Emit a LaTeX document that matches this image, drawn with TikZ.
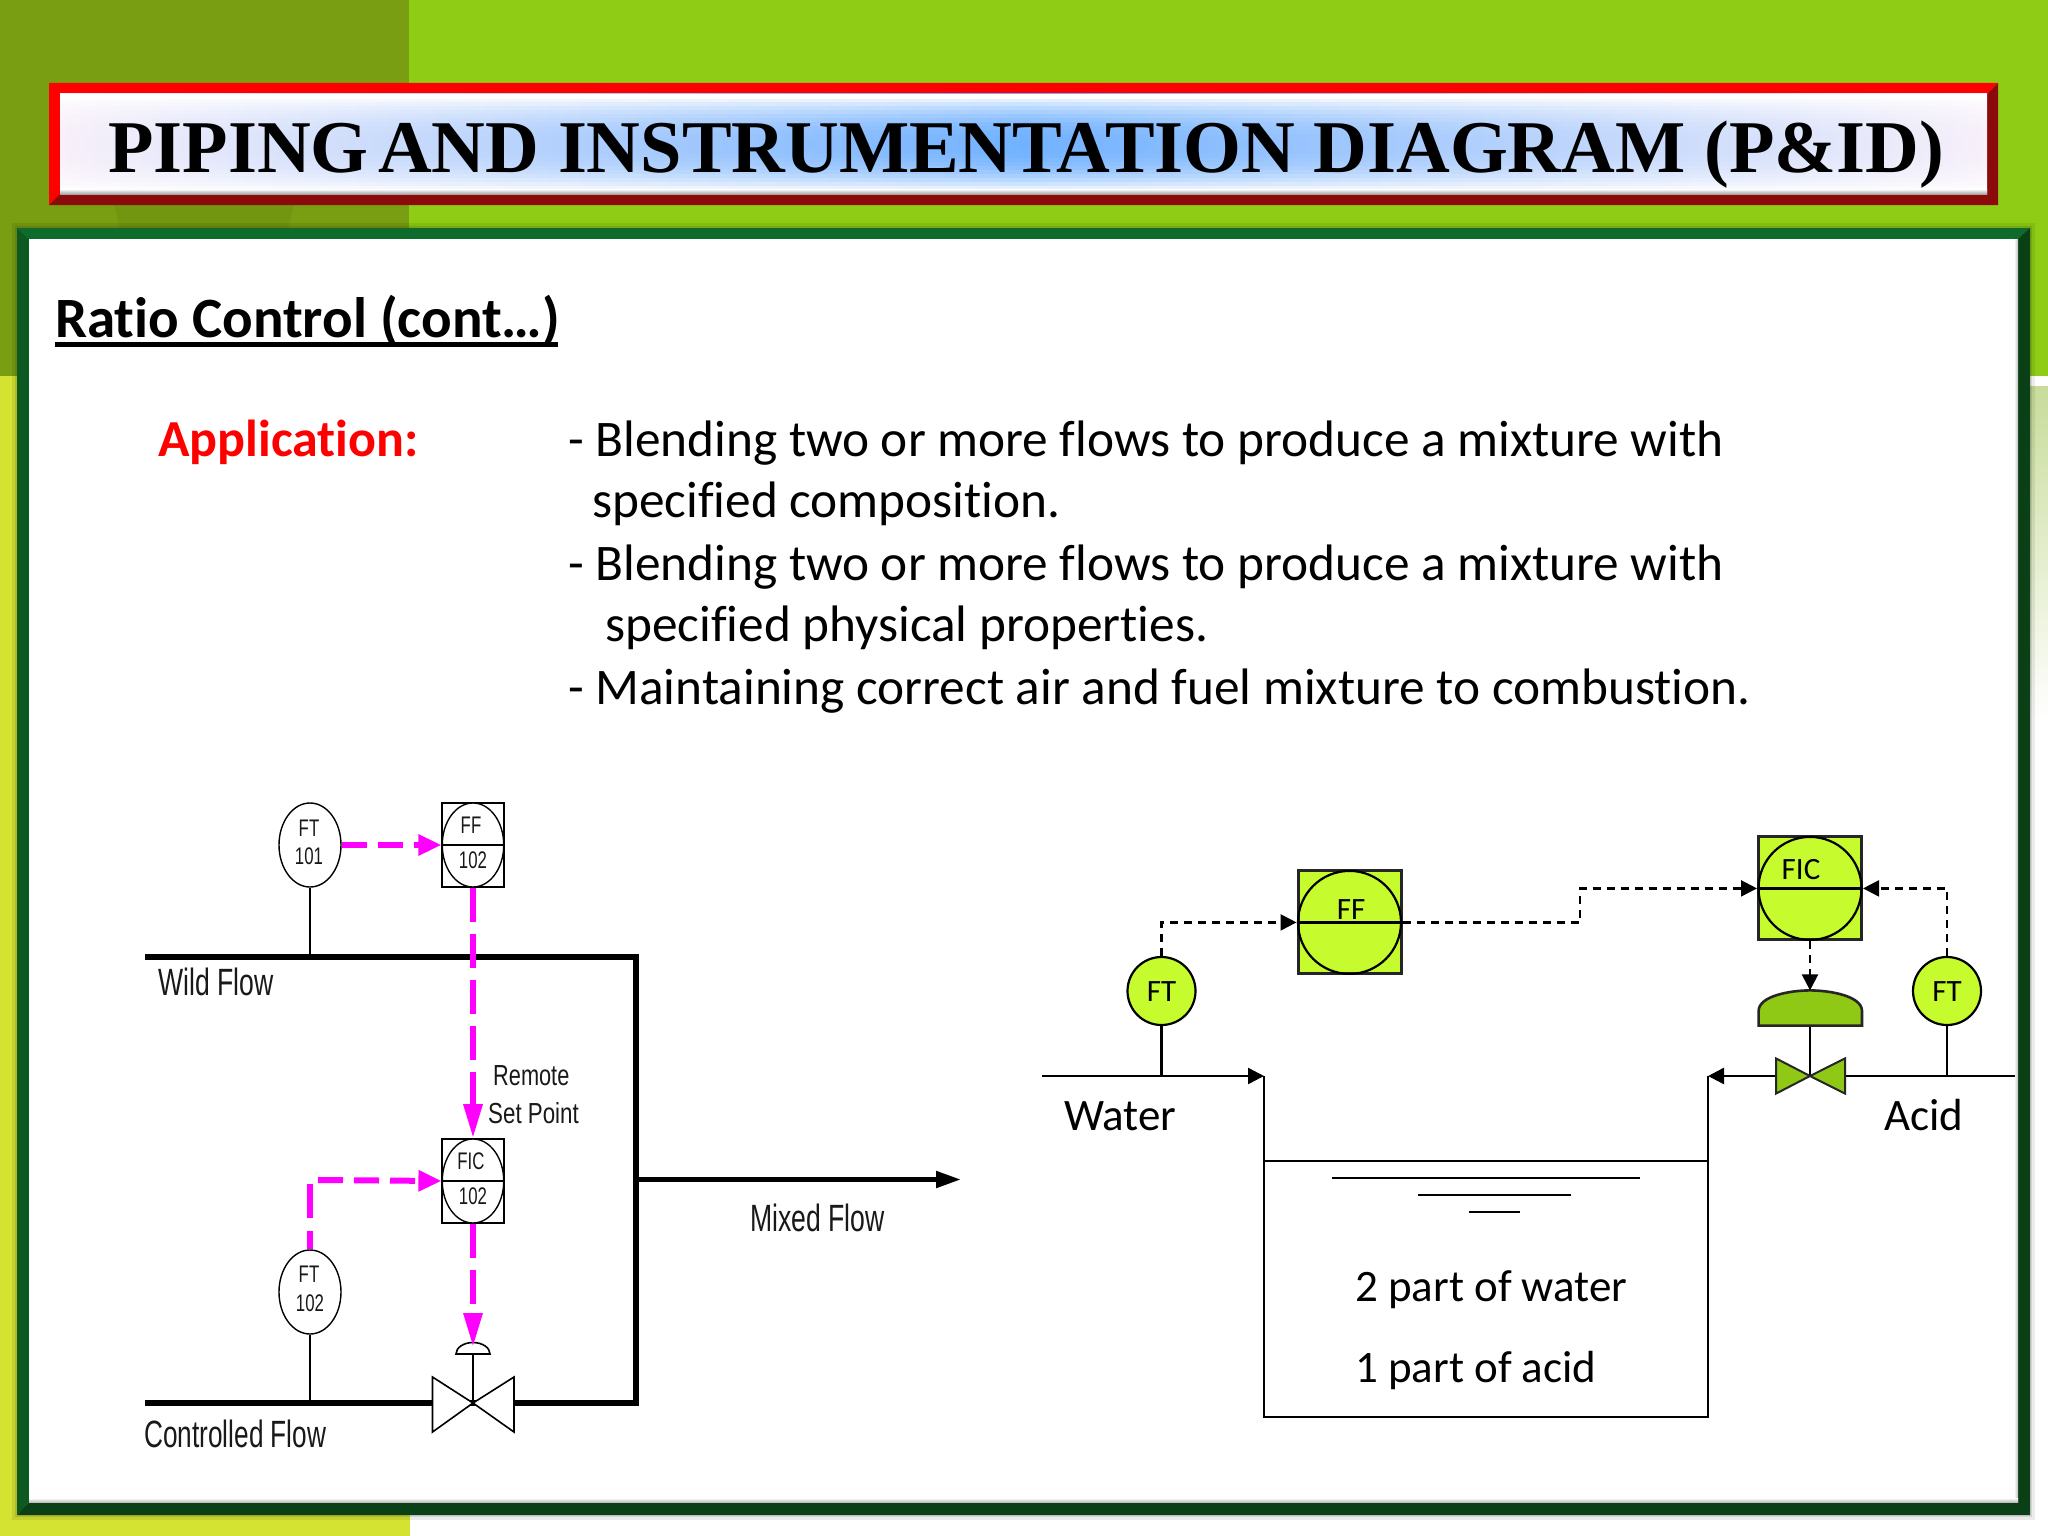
\documentclass[tikz,border=0pt]{standalone}
\usepackage{graphicx}
\usepackage{fontspec}
\setmainfont{Carlito}[Ligatures=CommonOff]
\newfontfamily\serifb{Liberation Serif}
\newfontfamily\arl{Liberation Sans}
\usetikzlibrary{shapes.geometric,arrows.meta}
\definecolor{leafA}{HTML}{8FCC15}
\definecolor{leafB}{HTML}{7A9E12}
\definecolor{leafC}{HTML}{72960F}
\definecolor{limeY}{HTML}{D4E232}
\definecolor{lime}{HTML}{C6FB2E}
\definecolor{valveG}{HTML}{8FC815}
\definecolor{frameL}{HTML}{0F6B2C}
\definecolor{frameS}{HTML}{0C5A22}
\definecolor{frameD}{HTML}{0B3F16}
\definecolor{redD}{HTML}{8B0A0A}
\definecolor{skyB}{HTML}{6AAEFF}
\definecolor{palePk}{HTML}{F8F0FA}
\definecolor{magenta2}{HTML}{FF00FF}
\definecolor{paleG}{HTML}{C8DC9A}
\newcommand{\nrw}[1]{\scalebox{0.7}[1]{#1}}
\newcommand{\fs}[1]{\fontsize{#1}{#1}\selectfont}
\tikzset{
  lbl/.style={inner sep=0pt,anchor=base west},
  bullet/.style={lbl,font=\fs{51.3}},
  instr/.style={inner sep=0pt,text=black!90,font=\arl\fs{24}},
  flowtxt/.style={lbl,text=black!90,font=\arl\fs{38}},
  thinl/.style={draw=black,line width=1.6pt},
  thickp/.style={draw=black,line width=5.5pt,line cap=butt,miter limit=10},
  lbub/.style={ellipse,draw=black,line width=1.4pt,fill=white,minimum width=62pt,minimum height=84pt,inner sep=0pt},
  lbox/.style={rectangle,draw=black,line width=1.6pt,fill=white,minimum width=61.5pt,minimum height=84pt,inner sep=0pt},
  hsig/.style={draw=magenta2,line width=6pt,dash pattern=on 25pt off 11pt,-{Triangle[length=23pt,width=20pt,fill=magenta2]}},
  vsig/.style={draw=magenta2,line width=6pt,dash pattern=on 34pt off 12pt,-{Triangle[length=34pt,width=18pt,fill=magenta2]}},
  gbub/.style={ellipse,draw=black,line width=2.2pt,fill=lime,minimum width=68pt,minimum height=68pt,inner sep=0pt},
  gbox/.style={rectangle,draw=black!85,line width=3pt,fill=lime,minimum width=103pt,minimum height=103pt,inner sep=0pt},
  gcir/.style={ellipse,draw=black,line width=2.2pt,minimum width=103pt,minimum height=103pt,inner sep=0pt},
  pipe/.style={draw=black,line width=2.5pt},
  gsig/.style={draw=black,line width=2.2pt,dash pattern=on 8pt off 6pt,-{Triangle[length=16pt,width=16pt,fill=black]}},
  gtxt/.style={inner sep=0pt,font=\fs{31}},
  bigt/.style={lbl,font=\fs{45}},
}
\begin{document}
\begin{tikzpicture}[x=1pt,y=-1pt]
\useasboundingbox (0,0) rectangle (2048,1536);
% background
\fill[white] (0,0) rectangle (2048,1536);
\fill[leafA] (0,0) rectangle (2048,376);
\fill[leafB] (0,0) rectangle (409,376);
\fill[limeY] (0,376) rectangle (17,1536);
\fill[limeY] (0,1515) rectangle (410,1536);
\shade[top color=paleG,bottom color=white] (2030,386) rectangle (2048,720);
\fill[leafC] (114,205) -- (294,205) -- (288,228) -- (120,228) -- cycle;
% title bar
\fill[red] (49,83) -- (1998,83) -- (1987,94) -- (60,94) -- (60,194) -- (49,205) -- cycle;
\fill[redD] (1998,83) -- (1998,205) -- (49,205) -- (60,194) -- (1987,194) -- (1987,94) -- cycle;
\shade[left color=palePk,right color=palePk,middle color=skyB] (60,94) rectangle (1987,194);
\foreach \i in {0,...,24}{
  \pgfmathsetmacro{\op}{min(1,pow(abs(\i-12)/12,2.4)*0.95+0.05)}
  \fill[white,opacity=\op] (60,94+4*\i) rectangle (1987,94+4*\i+4);
}
\fill[white] (60,94) rectangle (1987,99);
\shade[top color=white,bottom color=black!35] (60,189) rectangle (1987,194);
\node[lbl] (title) at (108,172) {\serifb\bfseries\fs{74.4}PIPING\hspace{-0.12em} AND INSTRUMENTATION DIAGRAM (P\&ID)};
% content frame
\fill[black,opacity=.08] (12,223) rectangle (2035,1520);
\fill[black,opacity=.10] (15,226) rectangle (2032,1517);
\fill[frameS] (17,228) -- (29,239) -- (29,1502) -- (17,1515) -- cycle;
\fill[frameL] (17,228) -- (2030,228) -- (2018,239) -- (29,239) -- cycle;
\fill[frameD] (2030,228) -- (2030,1515) -- (17,1515) -- (29,1502) -- (2018,1502) -- (2018,239) -- cycle;
\fill[white] (29,239) rectangle (2018,1502);
\shade[left color=white,right color=black!25] (2014,239) rectangle (2018,1502);
\shade[top color=white,bottom color=black!25] (29,1498) rectangle (2018,1502);
% texts
\node[lbl,font=\bfseries\fs{57}] (ratio) at (55,337) {Ratio Control (cont…)};
\fill[black] (55,342) rectangle (558,347);
\node[lbl,text=red,font=\bfseries\fs{52}] (app) at (158,456) {Application:};
\node[bullet] (b1) at (568,456) {- Blending two or more flows to produce a mixture with};
\node[bullet] (b2) at (592,517) {specified composition.};
\node[bullet] (b3) at (568,580) {- Blending two or more flows to produce a mixture with};
\node[bullet] (b4) at (605,641) {specified physical properties.};
\node[bullet] (b5) at (568,704) {- Maintaining correct air and fuel mixture to combustion.};
% ---------- left diagram
\coordinate (wl) at (145,957);
\coordinate (wc) at (636,957);
\coordinate (cl) at (145,1403);
\coordinate (cc) at (636,1403);
\coordinate (mj) at (636,1179.5);
\coordinate (mx) at (961,1179.5);
\coordinate (wt1) at (310,957);
\coordinate (ct1) at (310,1403);
\coordinate (lvc) at (473,1403);
\coordinate (sigk) at (310,1180);
\coordinate (lacttop) at (473,1347);
\node[lbub] (ft101) at (310,845) {};
\node[lbub] (ft102) at (310,1292) {};
\node[lbox] (ff102) at (473,845) {};
\node[lbub,minimum width=61.5pt] (ff102c) at (473,845) {};
\node[lbox] (fic102) at (473,1181) {};
\node[lbub,minimum width=61.5pt] (fic102c) at (473,1181) {};
\draw[thinl] (ff102.west) -- (ff102.east);
\draw[thinl] (fic102.west) -- (fic102.east);
\draw[thickp] (wl) -- (wc) -- (cc) -- (cl);
\draw[draw=black,line width=5pt,-{Triangle[length=25pt,width=16pt,fill=black]}] (mj) -- (mx);
\draw[thinl] (ft101.south) -- (wt1);
\draw[thinl] (ft102.south) -- (ct1);
% valve left
\coordinate (lact) at (473,1354);
\fill[white] (432.5,1377) -- (473,1403) -- (514,1377) -- (514,1432) -- (473,1403) -- (432.5,1432) -- cycle;
\draw[thinl] (432.5,1377) -- (473,1403) -- (514,1377) -- (514,1432) -- (473,1403) -- (432.5,1432) -- cycle;
\draw[thinl,fill=white] (456,1354) arc[start angle=180,end angle=360,x radius=17,y radius=11.5] -- cycle;
\draw[thinl] (lact) -- (lvc);
\draw[hsig] (ft101.east) -- (ff102.west);
\draw[vsig] (ff102.south) -- (fic102.north);
\draw[vsig] (fic102.south) -- (lacttop);
\draw[draw=magenta2,line width=6pt,dash pattern=on 18pt off 13pt on 34pt off 14pt] (ft102.north) -- (sigk);
\draw[hsig] (sigk) ++(8,0) -- (fic102.west);
\node[instr] (t1) at (309,828) {\nrw{FT}};
\node[instr] (t2) at (309,856) {\nrw{101}};
\node[instr] (t3) at (471,825) {\nrw{FF}};
\node[instr] (t4) at (473,860) {\nrw{102}};
\node[instr] (t5) at (471,1161) {\nrw{FIC}};
\node[instr] (t6) at (473,1196) {\nrw{102}};
\node[instr] (t7) at (309,1274) {\nrw{FT}};
\node[instr] (t8) at (310,1303) {\nrw{102}};
\node[flowtxt] (wf) at (158,995) {\nrw{Wild Flow}};
\node[flowtxt] (cf) at (144,1447) {\scalebox{0.69}[1]{Controlled Flow}};
\node[flowtxt] (mf) at (750,1231) {\nrw{Mixed Flow}};
\node[lbl,text=black!90,font=\arl\fs{29}] (rm) at (493,1085) {\scalebox{0.75}[1]{Remote}};
\node[lbl,text=black!90,font=\arl\fs{29}] (sp) at (488,1123) {\scalebox{0.77}[1]{Set Point}};
% ---------- right diagram
\coordinate (wa) at (1042,1076);
\coordinate (wb) at (1264,1076);
\coordinate (tbl) at (1264,1417);
\coordinate (tbr) at (1708,1417);
\coordinate (ttr) at (1708,1076);
\coordinate (aa) at (2015,1076);
\coordinate (wt2) at (1161.5,1076);
\coordinate (at2) at (1947,1076);
\coordinate (vc2) at (1810,1076);
\coordinate (lvlL) at (1264,1161);
\coordinate (lvlR) at (1708,1161);
\coordinate (l1a) at (1332,1178);
\coordinate (l1b) at (1640,1178);
\coordinate (l2a) at (1418,1195);
\coordinate (l2b) at (1571,1195);
\coordinate (l3a) at (1469,1212);
\coordinate (l3b) at (1520,1212);
\node[gbub] (ftw) at (1161.5,991) {};
\node[gbub] (fta) at (1947,991) {};
\node[gbox] (ffb) at (1349.5,922.4) {};
\node[gcir] (ffc) at (1349.5,922.4) {};
\node[gbox] (ficb) at (1810,888.4) {};
\node[gcir] (ficc) at (1810,888.4) {};
\draw[black,line width=2.6pt] (ffb.west) -- (ffb.east);
\draw[black,line width=2.6pt] (ficb.west) -- (ficb.east);
\draw[pipe] (ftw.south) -- (wt2);
\draw[pipe] (fta.south) -- (at2);
\draw[pipe,-{Triangle[length=16pt,width=16pt,fill=black]}] (wa) -- (wb);
\draw[pipe] (wb) -- (tbl) -- (tbr) -- (ttr);
\draw[pipe] (lvlL) -- (lvlR);
\draw[pipe] (l1a) -- (l1b);
\draw[pipe] (l2a) -- (l2b);
\draw[pipe] (l3a) -- (l3b);
\draw[pipe,-{Triangle[length=16pt,width=16pt,fill=black]}] (aa) -- (ttr);
% actuator + valve
\coordinate (act2) at (1810,1025.6);
\coordinate (actT) at (1810,990.4);
\draw[pipe] (act2) -- (vc2);
\draw[line width=2.6pt,draw=black!85,fill=valveG] (1758.6,1025.6) -- (1758.6,1011) .. controls (1758.6,996) and (1790,990.4) .. (actT) .. controls (1830,990.4) and (1862,996) .. (1862,1011) -- (1862,1025.6) -- cycle;
\draw[line width=2pt,draw=black!85,fill=valveG] (1776,1058.4) -- (vc2) -- (1845,1058.4) -- (1845,1093.6) -- (vc2) -- (1776,1093.6) -- cycle;
% signals
\draw[gsig] (ftw.north) |- (ffb.west);
\draw[gsig] (ffb.east) -- (1580,922.4) |- (ficb.west);
\draw[gsig] (fta.north) |- (ficb.east);
\draw[gsig] (ficb.south) -- (actT);
\node[gtxt,anchor=center] (lf1) at (1161.5,992) {FT};
\node[gtxt,anchor=center] (lf2) at (1947,992) {FT};
\node[gtxt,anchor=center] (lf3) at (1351,910) {FF};
\node[gtxt,anchor=center] (lf4) at (1801,870) {FIC};
\node[bigt] (wtxt) at (1064,1130) {Water};
\node[bigt] (atxt) at (1884,1130) {Acid};
\node[bigt] (p1) at (1355,1301) {2 part of water};
\node[bigt] (p2) at (1355,1382.5) {1 part of acid};
\end{tikzpicture}
\end{document}
